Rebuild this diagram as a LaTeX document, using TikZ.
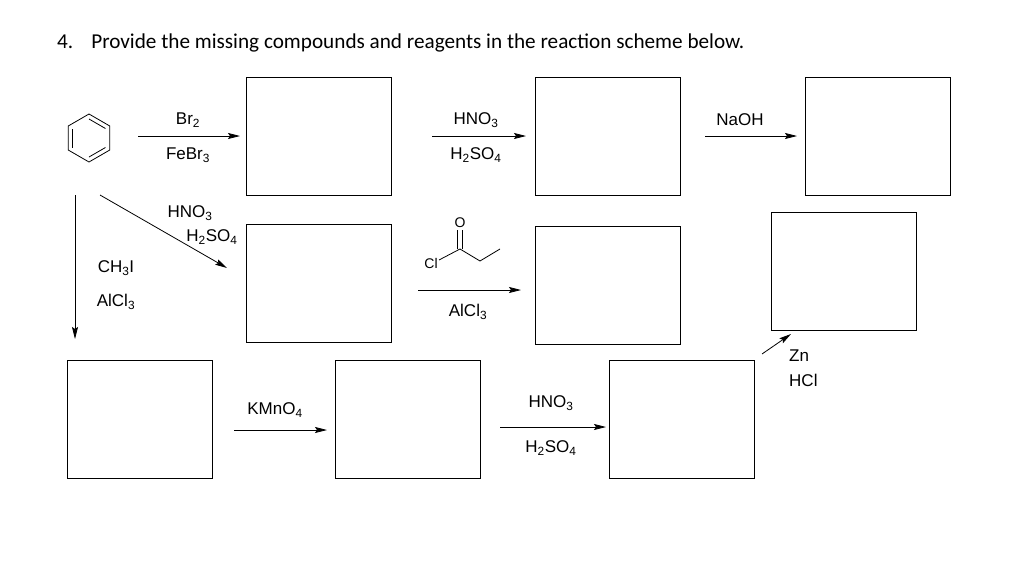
\documentclass[tikz,border=0pt]{standalone}
\usepackage{fontspec}
\setmainfont{Liberation Sans}
\newfontfamily\titlefont{Carlito}
\usetikzlibrary{arrows.meta}
\newcommand{\sbs}[1]{\textsubscript{#1}}
\begin{document}
\begin{tikzpicture}[x=1pt,y=-1pt,
  box/.style={draw,line width=0.8pt},
  rx/.style={-{Stealth[length=12pt,width=6pt,inset=2pt]},line width=0.8pt},
  lab/.style={font=\fontsize{17}{17}\selectfont,inner sep=0pt}]
\useasboundingbox (0,0) rectangle (1024,571);
\node[anchor=west,font=\titlefont\fontsize{21.2}{21}\selectfont,inner sep=0pt] (t) at (57,43) {4.\hspace{18pt}Provide the missing compounds and reagents in the reaction scheme below.};
% boxes
\foreach \n/\a/\b in {b1/246/77,b2/535/77,b3/805/77,b4/246/224,b5/535/226,b6/771/212,b7/67/360,b8/335/360,b9/609/360}
  \draw[box] (\a,\b) rectangle ++(145,118);
% benzene
\coordinate (c) at (89,138);
\draw[line width=0.8pt] (c)+(90:24) -- +(150:24) -- +(210:24) -- +(270:24) -- +(330:24) -- +(30:24) -- cycle;
\draw[line width=0.8pt] (c)+(150:19) -- +(210:19);
\draw[line width=0.8pt] (c)+(30:19) -- +(90:19);
\draw[line width=0.8pt] (c)+(270:19) -- +(330:19);
% arrows
\coordinate (a1s) at (138,136); \coordinate (a1e) at (240,136);
\draw[rx] (a1s) -- (a1e);
\node[lab] (br) at (188,120) {Br\sbs{2}};
\node[lab] (fe) at (188,155) {FeBr\sbs{3}};
\coordinate (a2s) at (432,136); \coordinate (a2e) at (526,136);
\draw[rx] (a2s) -- (a2e);
\node[lab] (h1) at (476,120) {HNO\sbs{3}};
\node[lab] (s1) at (476,155) {H\sbs{2}SO\sbs{4}};
\coordinate (a3s) at (705,136); \coordinate (a3e) at (797,136);
\draw[rx] (a3s) -- (a3e);
\node[lab] (na) at (740,120) {NaOH};
\coordinate (a4s) at (100,195); \coordinate (a4e) at (227,268);
\draw[rx] (a4s) -- (a4e);
\node[lab] (h2) at (190,213) {HNO\sbs{3}};
\node[lab] (s2) at (212,237) {H\sbs{2}SO\sbs{4}};
\coordinate (a5s) at (75,195); \coordinate (a5e) at (75,339);
\draw[rx] (a5s) -- (a5e);
\node[lab] (ch) at (116,268) {CH\sbs{3}I};
\node[lab] (al1) at (116,302) {AlCl\sbs{3}};
\coordinate (a6s) at (418,290); \coordinate (a6e) at (521,290);
\draw[rx] (a6s) -- (a6e);
\node[lab] (al2) at (468,312) {AlCl\sbs{3}};
\node[font=\fontsize{14}{14}\selectfont,inner sep=0pt] (cl) at (431,263) {Cl};
\node[font=\fontsize{14}{14}\selectfont,inner sep=0pt] (o) at (460,223) {O};
\coordinate (cc) at (460,249);
\draw[line width=0.8pt] (439,260) -- (cc) -- (480,261) -- (500,249);
\draw[line width=0.8pt] (457.5,249) -- (457.5,230) (462.5,249) -- (462.5,230);
\coordinate (a7s) at (762,354); \coordinate (a7e) at (791,334);
\draw[rx] (a7s) -- (a7e);
\node[lab,anchor=west] (zn) at (789,356) {Zn};
\node[lab,anchor=west] (hc) at (789,380) {HCl};
\coordinate (a8s) at (234,430); \coordinate (a8e) at (327,430);
\draw[rx] (a8s) -- (a8e);
\node[lab] (km) at (275,410) {KMnO\sbs{4}};
\coordinate (a9s) at (500,427); \coordinate (a9e) at (606,427);
\draw[rx] (a9s) -- (a9e);
\node[lab] (h3) at (551,403) {HNO\sbs{3}};
\node[lab] (s3) at (551,448) {H\sbs{2}SO\sbs{4}};
\end{tikzpicture}
\end{document}
